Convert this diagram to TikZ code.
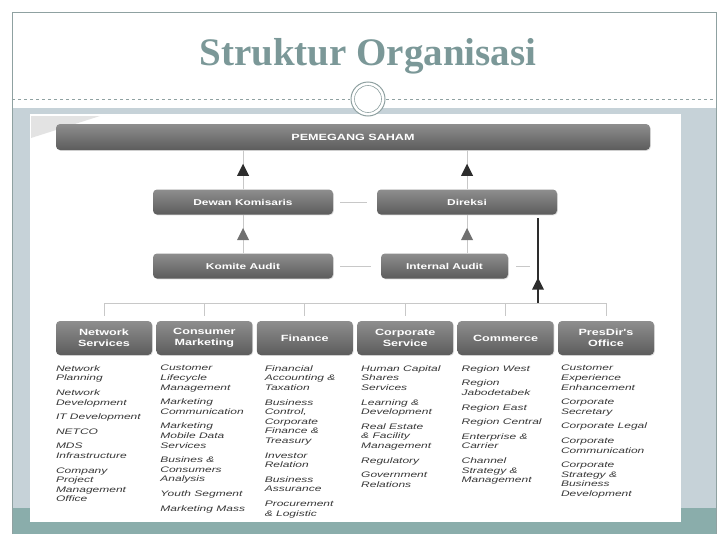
\documentclass[tikz,border=0pt]{standalone}
\usepackage{fontspec}
\setmainfont{Liberation Serif}
\newfontfamily\boxfont[FakeStretch=1.4]{Liberation Sans}
\newfontfamily\itemfont[FakeStretch=1.5]{Liberation Sans}
\usetikzlibrary{arrows.meta,positioning,calc,decorations.markings,shadows}
\definecolor{titleTeal}{RGB}{123,152,152}
\definecolor{frameGray}{RGB}{143,161,161}
\definecolor{bandGray}{RGB}{198,210,216}
\definecolor{bandTeal}{RGB}{138,173,171}
\definecolor{boxTop}{RGB}{142,142,142}
\definecolor{boxBot}{RGB}{92,92,92}
\definecolor{lineGray}{RGB}{200,200,200}
\definecolor{tipDark}{RGB}{45,45,45}
\definecolor{tipSoft}{RGB}{112,112,112}
\definecolor{itemText}{RGB}{55,55,55}
\tikzset{
  orgbox/.style={rectangle, rounded corners=4pt, top color=boxTop, bottom color=boxBot, draw=none, text=white, align=center, inner sep=0pt, drop shadow={opacity=0.25, shadow xshift=0.8pt, shadow yshift=-0.8pt}},
  topbox/.style={orgbox, minimum width=180pt, minimum height=25pt, font=\boxfont\bfseries\fontsize{8.5}{10}\selectfont},
  deptbox/.style={orgbox, minimum width=96pt, minimum height=34pt, font=\boxfont\bfseries\fontsize{9}{11}\selectfont},
  itemlist/.style={inner sep=0pt, align=left, text=itemText, font=\itemfont\itshape\fontsize{8}{9.6}\selectfont},
  linkline/.style={draw=lineGray, line width=0.7pt},
  uparrow/.style={linkline, postaction={decorate}, decoration={markings, mark=at position 0.5 with {\fill[tipDark] (6pt,0pt) -- (-6pt,6pt) -- (-6pt,-6pt) -- cycle;}}},
  softarrow/.style={linkline, postaction={decorate}, decoration={markings, mark=at position 0.5 with {\fill[tipSoft] (6pt,0pt) -- (-6pt,6pt) -- (-6pt,-6pt) -- cycle;}}},
  busarrow/.style={draw=tipDark, line width=1.3pt, postaction={decorate}, decoration={markings, mark=at position 0.22 with {\fill[tipDark] (6pt,0pt) -- (-6pt,6pt) -- (-6pt,-6pt) -- cycle;}}}
}
\begin{document}
\begin{tikzpicture}[x=1pt,y=-1pt]
  \useasboundingbox (0,0) rectangle (728,546);
  % slide background
  \fill[bandGray] (12,108) rectangle (716,508);
  \fill[bandTeal] (12,508) rectangle (716,534);
  \draw[frameGray, line width=0.8pt] (12,534) -- (12,12) -- (716,12) -- (716,534);
  \draw[frameGray, dashed, line width=0.5pt] (12,99) -- (350,99) (386,99) -- (716,99);
  \fill[white] (30,114) rectangle (681,522);
  \fill[gray!22] (31,116) -- (100,116) -- (31,138) -- cycle;
  \filldraw[fill=white, draw=frameGray, line width=1pt] (368,99) circle[radius=17pt];
  \draw[frameGray, line width=0.6pt] (368,99) circle[radius=13.5pt];
  \node[font=\bfseries\fontsize{39}{44}\selectfont, text=titleTeal] (title) at (368,56) {Struktur Organisasi};

  % top levels
  \node[topbox, minimum width=594pt, minimum height=26pt, font=\boxfont\bfseries\fontsize{9}{10}\selectfont] (saham) at (353,137) {PEMEGANG SAHAM};
  \node[topbox] (dewan) at (243,202) {Dewan Komisaris};
  \node[topbox] (direksi) at (467,202) {Direksi};
  \node[topbox] (komite) at (243,266) {Komite Audit};
  \node[topbox, minimum width=127pt] (internal) at (444.5,266) {Internal Audit};

  % directorates
  \node[deptbox] (net) at (104,338) {Network\\Services};
  \node[deptbox, right=4pt of net] (cons) {Consumer\\Marketing};
  \node[deptbox, right=4pt of cons] (fin) {Finance};
  \node[deptbox, right=4pt of fin] (corp) {Corporate\\Service};
  \node[deptbox, right=4pt of corp] (comm) {Commerce};
  \node[deptbox, right=4pt of comm] (pres) {PresDir's\\Office};

  % units under each directorate
  \node[itemlist, below right=10pt and 0pt of net.south west] (netItems) {Network\\Planning\\[5pt]
    Network\\Development\\[5pt]
    IT Development\\[5pt]
    NETCO\\[5pt]
    MDS\\Infrastructure\\[5pt]
    Company\\Project\\Management\\Office};
  \node[itemlist, below right=10pt and 4pt of cons.south west] (consItems) {Customer\\Lifecycle\\Management\\[5pt]
    Marketing\\Communication\\[5pt]
    Marketing\\Mobile Data\\Services\\[5pt]
    Busines \&\\Consumers\\Analysis\\[5pt]
    Youth Segment\\[5pt]
    Marketing Mass};
  \node[itemlist, below right=10pt and 8pt of fin.south west] (finItems) {Financial\\Accounting \&\\Taxation\\[5pt]
    Business\\Control,\\Corporate\\Finance \&\\Treasury\\[5pt]
    Investor\\Relation\\[5pt]
    Business\\Assurance\\[5pt]
    Procurement\\\& Logistic};
  \node[itemlist, below right=10pt and 4pt of corp.south west] (corpItems) {Human Capital\\Shares\\Services\\[5pt]
    Learning \&\\Development\\[5pt]
    Real Estate\\\& Facility\\Management\\[5pt]
    Regulatory\\[5pt]
    Government\\Relations};
  \node[itemlist, below right=10pt and 4pt of comm.south west] (commItems) {Region West\\[5pt]
    Region\\Jabodetabek\\[5pt]
    Region East\\[5pt]
    Region Central\\[5pt]
    Enterprise \&\\Carrier\\[5pt]
    Channel\\Strategy \&\\Management};
  \node[itemlist, below right=10pt and 3pt of pres.south west] (presItems) {Customer\\Experience\\Enhancement\\[5pt]
    Corporate\\Secretary\\[5pt]
    Corporate Legal\\[5pt]
    Corporate\\Communication\\[5pt]
    Corporate\\Strategy \&\\Business\\Development};

  % reporting lines
  \draw[uparrow] (dewan.north) -- (dewan.north |- saham.south);
  \draw[uparrow] (direksi.north) -- (direksi.north |- saham.south);
  \draw[softarrow] (komite.north) -- (dewan.south);
  \draw[softarrow] (internal.north -| direksi) -- (direksi.south);
  \draw[linkline, shorten <=7pt, shorten >=10pt] (dewan.east) -- (direksi.west);
  \draw[linkline, shorten <=7pt, shorten >=10pt] (komite.east) -- (internal.west);
  \coordinate (bus) at (538,303);
  \draw[linkline, shorten <=8pt, shorten >=8pt] (internal.east) -- (internal.east -| bus);
  \draw[busarrow, shorten >=3pt] (bus) -- (bus |- direksi.south);
  \draw[linkline] (net.north |- bus) -- (pres.north |- bus);
  \foreach \n in {net,cons,fin,corp,comm,pres}
    \draw[linkline, shorten >=5pt] (\n.north |- bus) -- (\n.north);
\end{tikzpicture}
\end{document}
